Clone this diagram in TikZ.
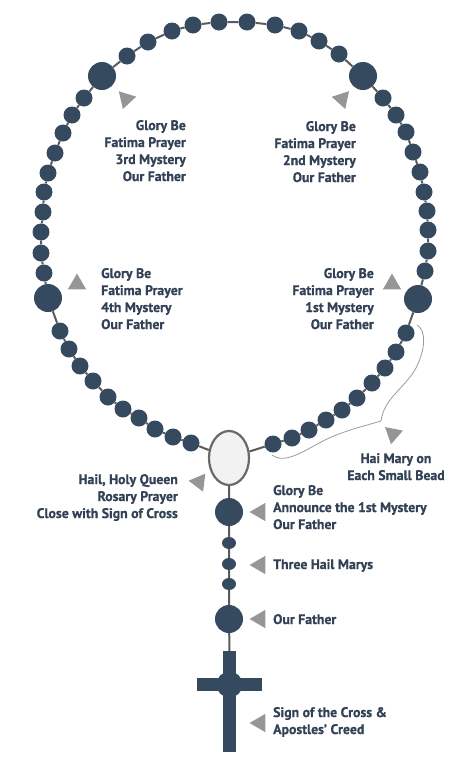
\documentclass[tikz,border=0pt]{standalone}
\usepackage{fontspec}
\setmainfont{PT Sans}[BoldFeatures={FakeBold=0.8}]
\usetikzlibrary{shapes.geometric,backgrounds}
\definecolor{bead}{RGB}{53,74,95}
\definecolor{txt}{RGB}{50,65,85}
\definecolor{strg}{RGB}{90,90,90}
\definecolor{tri}{RGB}{150,150,150}
\definecolor{medfill}{RGB}{242,242,242}
\definecolor{medline}{RGB}{105,105,105}
\definecolor{bracecol}{RGB}{155,155,155}
\begin{document}
\begin{tikzpicture}[x=1pt,y=-1pt,
  small/.style={circle,fill=bead,minimum size=17pt,inner sep=0pt},
  large/.style={circle,fill=bead,minimum size=28pt,inner sep=0pt},
  oval/.style={ellipse,fill=bead,minimum width=14pt,minimum height=12pt,inner sep=0pt},
  pointer/.style={regular polygon,regular polygon sides=3,fill=tri,minimum size=21pt,inner sep=0pt},
  lbl/.style={text=txt,font=\bfseries\fontsize{13.8}{17}\selectfont,inner sep=0pt},
  cord/.style={draw=strg,line width=2pt},
]
\useasboundingbox (0,0) rectangle (474,761);

% medallion
\node[ellipse,draw=medline,fill=medfill,line width=2.2pt,minimum width=40pt,minimum height=54pt,inner sep=0pt] (med) at (229,458) {};

% loop beads
\foreach \n/\px/\py in {a1/191/443,a2/173/437,a3/155/429,a4/139/418,a5/123/409,a6/108/397,a7/93/381,a8/80/366,a9/69/349,a10/60/331,
  b1/44/273,b2/41/253,b3/41/232,b4/43/212,b5/44/192,b6/48/173,b7/55/153,b8/63/133,b9/72/115,b10/84/98,
  c1/127/56,c2/148/42,c3/172/31,c4/193/25,c5/219/22,c6/247/22,c7/275/25,c8/299/31,c9/319/41,c10/339/54,
  d1/383/98,d2/396/115,d3/406/132,d4/413/152,d5/420/172,d6/424/192,d7/427/211,d8/428/230,d9/428/251,d10/425/271,
  e1/406/333,e2/396/352,e3/385/368,e4/372/383,e5/357/398,e6/342/410,e7/326/420,e8/309/430,e9/292/438,e10/273/444}
  \node[small] (\n) at (\px,\py) {};
\node[large] (L1) at (102,76) {};
\node[large] (L2) at (363,76) {};
\node[large] (L3) at (48,298) {};
\node[large] (L4) at (418,299) {};

% pendant
\node[large] (p1) at (229,512) {};
\node[oval] (p2) at (229,543) {};
\node[oval] (p3) at (229,564) {};
\node[oval] (p4) at (229,584) {};
\node[large] (p5) at (229,619) {};
\coordinate (crosstop) at (229.5,652);
\fill[bead] (223,651) rectangle (236,752);
\fill[bead] (197,678) rectangle (262,691);
\fill[bead] (229.5,684.5) circle (13);

\begin{scope}[on background layer]
\draw[cord] (med) -- (a1) -- (a2) -- (a3) -- (a4) -- (a5) -- (a6) -- (a7) -- (a8) -- (a9) -- (a10) -- (L3)
  -- (b1) -- (b2) -- (b3) -- (b4) -- (b5) -- (b6) -- (b7) -- (b8) -- (b9) -- (b10) -- (L1)
  -- (c1) -- (c2) -- (c3) -- (c4) -- (c5) -- (c6) -- (c7) -- (c8) -- (c9) -- (c10) -- (L2)
  -- (d1) -- (d2) -- (d3) -- (d4) -- (d5) -- (d6) -- (d7) -- (d8) -- (d9) -- (d10) -- (L4)
  -- (e1) -- (e2) -- (e3) -- (e4) -- (e5) -- (e6) -- (e7) -- (e8) -- (e9) -- (e10) -- (med);
\draw[cord] (med) -- (p1) -- (p2) -- (p3) -- (p4) -- (p5) -- (crosstop);
\end{scope}

% brace
\draw[bracecol,line width=0.8pt] (417,325) .. controls (426,330) and (426,348) .. (416,368)
  .. controls (405,388) and (384,398) .. (381,421)
  .. controls (372,424) and (345,430) .. (325,440)
  .. controls (305,450) and (285,465) .. (272,455);

% pointers
\node[pointer,rotate=43] (t1) at (126,99) {};
\node[pointer,rotate=-42] (t2) at (342,99) {};
\node[pointer] (t3) at (77,284) {};
\node[pointer] (t4) at (392,284) {};
\node[pointer,rotate=49] (t5) at (393,434) {};
\node[pointer,rotate=-37] (t6) at (199,482) {};
\node[pointer,rotate=90] (t7) at (260,512) {};
\node[pointer,rotate=90] (t8) at (260,565) {};
\node[pointer,rotate=90] (t9) at (260,619) {};
\node[pointer,rotate=90] (t10) at (260,723) {};

% labels (anchor base = baseline of last line)
\node[lbl,align=right,anchor=base east] (g1) at (186,181) {Glory Be\\Fatima Prayer\\3rd Mystery\\Our Father};
\node[lbl,align=right,anchor=base east] (g2) at (356,182) {Glory Be\\Fatima Prayer\\2nd Mystery\\Our Father};
\node[lbl,align=left,anchor=base west] (g3) at (101,329) {Glory Be\\Fatima Prayer\\4th Mystery\\Our Father};
\node[lbl,align=right,anchor=base east] (g4) at (374,329) {Glory Be\\Fatima Prayer\\1st Mystery\\Our Father};
\node[lbl,align=center,anchor=base] (g5) at (396,480) {Hai Mary on\\Each Small Bead};
\node[lbl,align=right,anchor=base east] (g6) at (178,518) {Hail, Holy Queen\\Rosary Prayer\\Close with Sign of Cross};
\node[lbl,align=left,anchor=base west] (g7) at (273,529) {Glory Be\\Announce the 1st Mystery\\Our Father};
\node[lbl,anchor=base west] (g8) at (273,569) {Three Hail Marys};
\node[lbl,anchor=base west] (g9) at (273,624) {Our Father};
\node[lbl,align=left,anchor=base west] (g10) at (273,734) {Sign of the Cross \&\\Apostles’ Creed};
\end{tikzpicture}
\end{document}
